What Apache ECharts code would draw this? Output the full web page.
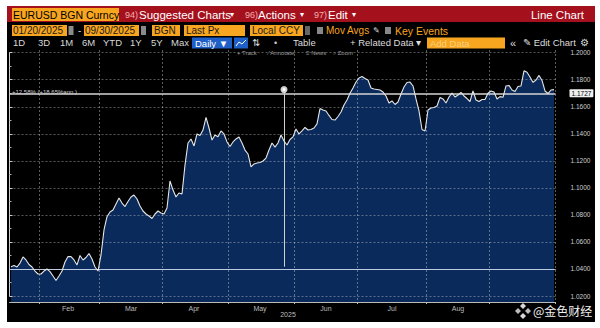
<!DOCTYPE html>
<html><head><meta charset="utf-8">
<script src="https://cdn.jsdelivr.net/npm/echarts@6/dist/echarts.min.js"></script>
<style>
html,body{margin:0;padding:0;background:#fff;}
#frame{position:absolute;left:7px;top:6px;width:588px;height:316px;background:#000;}
#chart{position:absolute;left:0;top:0;width:600px;height:328px;}
</style></head>
<body><div id="frame"></div><div id="chart"></div>
<script>
// ---- data ----
const tradingDays = [
'2025-01-20','2025-01-21','2025-01-22','2025-01-23','2025-01-24','2025-01-27','2025-01-28','2025-01-29','2025-01-30','2025-01-31',
'2025-02-03','2025-02-04','2025-02-05','2025-02-06','2025-02-07','2025-02-10','2025-02-11','2025-02-12','2025-02-13','2025-02-14',
'2025-02-17','2025-02-18','2025-02-19','2025-02-20','2025-02-21','2025-02-24','2025-02-25','2025-02-26','2025-02-27','2025-02-28',
'2025-03-03','2025-03-04','2025-03-05','2025-03-06','2025-03-07','2025-03-10','2025-03-11','2025-03-12','2025-03-13','2025-03-14',
'2025-03-17','2025-03-18','2025-03-19','2025-03-20','2025-03-21','2025-03-24','2025-03-25','2025-03-26','2025-03-27','2025-03-28','2025-03-31',
'2025-04-01','2025-04-02','2025-04-03','2025-04-04','2025-04-07','2025-04-08','2025-04-09','2025-04-10','2025-04-11','2025-04-14',
'2025-04-15','2025-04-16','2025-04-17','2025-04-18','2025-04-21','2025-04-22','2025-04-23','2025-04-24','2025-04-25','2025-04-28','2025-04-29','2025-04-30',
'2025-05-01','2025-05-02','2025-05-05','2025-05-06','2025-05-07','2025-05-08','2025-05-09','2025-05-12','2025-05-13','2025-05-14',
'2025-05-15','2025-05-16','2025-05-19','2025-05-20','2025-05-21','2025-05-22','2025-05-23','2025-05-26','2025-05-27','2025-05-28','2025-05-29','2025-05-30',
'2025-06-02','2025-06-03','2025-06-04','2025-06-05','2025-06-06','2025-06-09','2025-06-10','2025-06-11','2025-06-12','2025-06-13',
'2025-06-16','2025-06-17','2025-06-18','2025-06-19','2025-06-20','2025-06-23','2025-06-24','2025-06-25','2025-06-26','2025-06-27','2025-06-30',
'2025-07-01','2025-07-02','2025-07-03','2025-07-04','2025-07-07','2025-07-08','2025-07-09','2025-07-10','2025-07-11','2025-07-14',
'2025-07-15','2025-07-16','2025-07-17','2025-07-18','2025-07-21','2025-07-22','2025-07-23','2025-07-24','2025-07-25','2025-07-28','2025-07-29','2025-07-30','2025-07-31',
'2025-08-01','2025-08-04','2025-08-05','2025-08-06','2025-08-07','2025-08-08','2025-08-11','2025-08-12','2025-08-13','2025-08-14',
'2025-08-15','2025-08-18','2025-08-19','2025-08-20','2025-08-21','2025-08-22','2025-08-25','2025-08-26','2025-08-27','2025-08-28','2025-08-29',
'2025-09-01','2025-09-02','2025-09-03','2025-09-04','2025-09-05','2025-09-08','2025-09-09','2025-09-10','2025-09-11','2025-09-12',
'2025-09-15','2025-09-16','2025-09-17','2025-09-18','2025-09-19','2025-09-22','2025-09-23','2025-09-24','2025-09-25','2025-09-26','2025-09-29','2025-09-30'
];
const eurusd = [
1.0417,1.0426,1.0415,1.0444,1.0489,1.0467,1.0433,1.0415,1.0385,1.0363,
1.0363,1.0385,1.0400,1.0381,1.0348,1.0315,1.0348,1.0385,1.0452,1.0492,
1.0492,1.0467,1.0430,1.0500,1.0467,1.0485,1.0515,1.0474,1.0415,1.0385,
1.0504,1.0689,1.0787,1.0822,1.0836,1.0881,1.0925,1.0888,1.0862,1.0899,
1.0933,1.0947,1.0918,1.0866,1.0829,1.0807,1.0792,1.0774,1.0807,1.0829,1.0814,
1.0807,1.0851,1.1051,1.0984,1.0933,1.0962,1.0955,1.1169,1.1332,1.1362,
1.1310,1.1399,1.1388,1.1428,1.1521,1.1443,1.1354,1.1391,1.1379,1.1421,1.1399,1.1340,
1.1306,1.1340,1.1362,1.1377,1.1332,1.1280,1.1251,1.1155,1.1177,1.1184,
1.1188,1.1199,1.1221,1.1280,1.1332,1.1302,1.1332,1.1391,1.1347,1.1317,1.1358,1.1377,
1.1436,1.1399,1.1421,1.1447,1.1428,1.1432,1.1443,1.1473,1.1587,1.1576,
1.1569,1.1536,1.1506,1.1502,1.1528,1.1561,1.1613,1.1650,1.1700,1.1739,1.1783,
1.1813,1.1824,1.1809,1.1798,1.1739,1.1732,1.1728,1.1724,1.1709,1.1680,
1.1628,1.1643,1.1617,1.1635,1.1695,1.1746,1.1780,1.1783,1.1754,1.1658,1.1569,1.1432,1.1421,
1.1576,1.1591,1.1595,1.1606,1.1669,1.1658,1.1628,1.1672,1.1702,1.1672,
1.1687,1.1706,1.1680,1.1661,1.1639,1.1717,1.1650,1.1639,1.1654,1.1654,1.1700,
1.1717,1.1709,1.1658,1.1675,1.1670,1.1754,1.1758,1.1724,1.1713,1.1750,
1.1754,1.1866,1.1855,1.1820,1.1780,1.1798,1.1832,1.1795,1.1717,1.1698,1.1724,1.1727
];
const monthLabels = ['Feb','Mar','Apr','May','Jun','Jul','Aug'];
const yAxisMin = 1.02, yAxisMax = 1.20, yAxisStep = 0.02;
const trackDate = '2025-05-27';
const changeText = '+12.58% (+18.65%ann.)';
const yearLabel = '2025';

// ---- derived ----
const MONTHS = ['Jan','Feb','Mar','Apr','May','Jun','Jul','Aug','Sep','Oct','Nov','Dec'];
const monthOf = d => MONTHS[+d.slice(5,7)-1];
const monthStart = new Set();
tradingDays.forEach((d,i)=>{ if(i>0 && monthOf(d)!==monthOf(tradingDays[i-1])) monthStart.add(i); });
const labelIdx = new Set();
monthLabels.forEach(m=>{
  const idx = []; tradingDays.forEach((d,i)=>{ if(monthOf(d)===m) idx.push(i); });
  if(idx.length) labelIdx.add(idx[Math.floor((idx.length-1)/2)]);
});
const first = eurusd[0], last = eurusd[eurusd.length-1];

// ---- chrome helpers ----
const FONT = '"Liberation Sans", Arial, sans-serif';
const ORANGE = '#f8a51f';
function T(x,y,text,fill,size,extra){
  return {type:'text', x:x, y:y, z:20, silent:true,
    style:Object.assign({text:text, fill:fill, font:size+'px '+FONT, align:'left', verticalAlign:'middle'}, extra||{})};
}
function R(x,y,w,h,fill){ return {type:'rect', z:19, silent:true, shape:{x:x,y:y,width:w,height:h}, style:{fill:fill}}; }

const chrome = [
  R(7,6,588,16,'#a5101d'),
  R(12,8,107,13,ORANGE), T(13,14.8,'EURUSD BGN Curncy','#000',10.5),
  T(125,14.8,'94)','#f3b0b0',9), T(139,14.8,'Suggested Charts','#fff',11.5), T(230,14.8,'\u25BE','#fff',8),
  T(245,14.8,'96)','#f3b0b0',9), T(258,14.8,'Actions','#fff',11.5), T(300,14.8,'\u25BE','#fff',8),
  T(314,14.8,'97)','#f3b0b0',9), T(328,14.8,'Edit','#fff',11.5), T(352,14.8,'\u25BE','#fff',8),
  T(584,14.8,'Line Chart','#fff',11.5,{align:'right'}),
  // row 2
  R(12,25,55,11,ORANGE), T(13,30.8,'01/20/2025','#1a1a1a',10),
  R(68.5,26,5,9,'#8a8a8a'), T(78,30.5,'-','#ccc',10),
  R(84,25,55,11,ORANGE), T(85,30.8,'09/30/2025','#1a1a1a',10),
  R(141,26,5,9,'#8a8a8a'),
  R(152,25,28,11,ORANGE), T(154,30.8,'BGN','#1a1a1a',10),
  R(184,25,61,11,ORANGE), T(186,30.8,'Last Px','#1a1a1a',10),
  R(250,25,53,11,ORANGE), T(252,30.8,'Local CCY','#1a1a1a',10),
  R(305,26,5,9,'#666'),
  R(317,27,6,7,'#888'), T(326,30.8,'Mov Avgs','#f8a51f',10), T(373,30.8,'\u270E','#ddd',8),
  R(385,27,6,7,'#888'), T(395,30.8,'Key Events','#f8a51f',10.5),
  // row 3
  T(13,42.8,'1D','#d8d8d8',9.5), T(38,42.8,'3D','#d8d8d8',9.5), T(60,42.8,'1M','#d8d8d8',9.5),
  T(82,42.8,'6M','#d8d8d8',9.5), T(103,42.8,'YTD','#d8d8d8',9.5), T(130,42.8,'1Y','#d8d8d8',9.5),
  T(151,42.8,'5Y','#d8d8d8',9.5), T(171,42.8,'Max','#d8d8d8',9.5),
  R(192,37.5,40,11,'#1f5fc8'), T(195,43,'Daily \u25BC','#fff',9.5),
  R(234,37.5,14,11,'#1f5fc8'),
  {type:'polyline', z:21, silent:true, shape:{points:[[236,46],[239,42],[242,44],[246,40]]}, style:{stroke:'#fff', lineWidth:1, fill:null}},
  T(252,42.8,'\u21C5','#ddd',10), T(274,42.8,'\u2022','#ccc',9),
  T(293,42.8,'Table','#ddd',9.5),
  T(350,42.8,'+ Related Data \u25BE','#ddd',9.5),
  R(427,37.5,78,11,ORANGE), T(430,43,'Add Data','#fcd27c',9.5),
  T(510,42.5,'\u00AB','#ddd',11), T(523,42.8,'\u270E Edit Chart','#ddd',9.5), T(580,42.8,'\u2699','#ddd',10),
  // row 4
  T(237,52.5,'+ Track','#9a9a9a',6), T(268,52.5,'\u2044 Annotate','#9a9a9a',6),
  T(306,52.5,'\u2261 News','#9a9a9a',6), T(333,52.5,'\u2315 Zoom','#9a9a9a',6),
  // annotation and footer
  T(12,92,changeText,'#d0d0d0',6),
  T(288,314.5,yearLabel,'#bdbdbd',7,{align:'center'}),
  // watermark
  {type:'polygon', z:21, silent:true, shape:{points:[[523,303],[526,306],[523,309],[520,306]]}, style:{fill:'#d8d8d8'}},
  {type:'polygon', z:21, silent:true, shape:{points:[[518,308],[521,311],[518,314],[515,311]]}, style:{fill:'#bdbdbd'}},
  {type:'polygon', z:21, silent:true, shape:{points:[[528,308],[531,311],[528,314],[525,311]]}, style:{fill:'#bdbdbd'}},
  {type:'polygon', z:21, silent:true, shape:{points:[[523,313],[526,316],[523,319],[520,316]]}, style:{fill:'#d8d8d8'}},
  T(533,310,'@\u91D1\u8272\u8D22\u7ECF','#f2f2f2',12,{font:'12px "Noto Sans CJK SC", sans-serif'})
];

const chart = echarts.init(document.getElementById('chart'), null, {renderer:'svg'});
chart.setOption({
  animation:false,
  backgroundColor:'transparent',
  textStyle:{fontFamily:FONT},
  grid:[
    {left:9.5, top:50, width:546, height:252},
    {left:9.5, top:52.7, width:546, height:243.3}
  ],
  xAxis:[
    {type:'category', gridIndex:0, data:tradingDays, boundaryGap:true, z:3,
     axisLine:{show:true, lineStyle:{color:'#bbbbbb', width:1}},
     axisTick:{show:true, interval:(i)=>monthStart.has(i), length:2, lineStyle:{color:'#bbbbbb'}},
     axisLabel:{show:true, interval:(i)=>labelIdx.has(i), formatter:(v)=>monthOf(v), color:'#bdbdbd', fontSize:7, margin:3},
     splitLine:{show:true, interval:(i)=>monthStart.has(i), lineStyle:{color:'rgba(205,205,205,0.45)', width:1, type:[2,2]}}},
    {type:'value', gridIndex:1, show:false, min:0, max:1}
  ],
  yAxis:[
    {type:'value', gridIndex:0, show:false, min:1.0156, max:1.2020},
    {type:'value', gridIndex:1, position:'right', offset:12, min:yAxisMin, max:yAxisMax, interval:yAxisStep, z:3,
     axisLine:{show:true, lineStyle:{color:'#cfcfcf', width:1}},
     axisTick:{show:true, length:3, lineStyle:{color:'#cfcfcf'}},
     minorTick:{show:true, splitNumber:2, length:2, lineStyle:{color:'#aaaaaa'}},
     axisLabel:{color:'#cfcfcf', fontSize:6.5, margin:3, formatter:(v)=>v.toFixed(4)},
     splitLine:{show:true, lineStyle:{color:'rgba(205,205,205,0.42)', width:1, type:[2,2]}}}
  ],
  graphic:{elements:chrome},
  series:[
    {type:'line', xAxisIndex:0, yAxisIndex:0, data:eurusd, symbol:'none', silent:true, z:1,
     lineStyle:{width:0}, areaStyle:{color:'#0b2a5c', opacity:1, origin:'start'}},
    {type:'line', xAxisIndex:0, yAxisIndex:0, data:eurusd, symbol:'none', silent:true, z:5,
     lineStyle:{color:'#e6e6e6', width:1.1},
     markLine:{silent:true, animation:false, symbol:['none','none'],
       label:{show:false},
       lineStyle:{color:'#d0d0d0', width:1, type:'solid'},
       emphasis:{disabled:true},
       data:[
         {yAxis:last, lineStyle:{color:'#d4d4d4', width:1.5, type:'solid'},
          label:{show:true, position:'end', distance:14, formatter:last.toFixed(4), color:'#000',
                 backgroundColor:'#f0f0f0', padding:[1,2,0,2], fontSize:6.5, borderRadius:1}},
         {yAxis:first, lineStyle:{color:'#bccbe2', width:1.2, type:'solid'}},
         [{coord:[trackDate,last], symbol:'emptyCircle', symbolSize:5},
          {coord:[trackDate,first], symbol:'none'}]
       ]}}
  ]
});
</script></body></html>
